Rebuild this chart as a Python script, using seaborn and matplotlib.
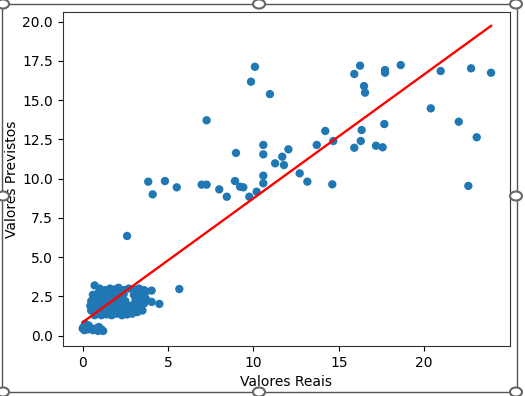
import matplotlib
matplotlib.use("Agg")
import matplotlib.pyplot as plt
from matplotlib.patches import Rectangle, Circle
import seaborn as sns
import pandas as pd

# ---- data: actual (x) vs predicted (y) ----
real_low = [0.05, 0.10, 0.20, 0.30, 0.45, 0.60, 0.75, 0.90, 1.10, 1.20, 0.15, 0.00, 0.35, 0.95]
pred_low = [0.55, 0.35, 0.60, 0.40, 0.50, 0.35, 0.45, 0.30, 0.40, 0.30, 0.75, 0.45, 0.65, 0.55]

real_cluster = [0.7, 1.0, 1.3, 1.6, 1.9, 2.1, 2.4, 2.7, 3.0, 3.3, 3.6, 3.7,
                0.6, 0.9, 1.2, 1.5, 1.8, 2.1, 2.4, 3.0, 3.3, 3.6,
                0.5, 0.7, 1.0, 1.3, 1.6, 1.9, 2.2, 2.5, 3.1, 3.4, 3.7,
                0.45, 0.6, 0.9, 1.2, 1.5, 1.8, 2.1, 2.4, 2.7, 3.0, 3.3, 3.6,
                0.5, 0.7, 0.9, 1.2, 1.5, 1.8, 2.1, 2.4, 2.7, 3.0, 3.3, 3.5,
                0.7, 0.9, 1.1, 1.4, 1.7, 2.0, 2.3, 2.6, 2.9, 3.2,
                4.04, 4.04, 4.49, 5.66, 2.6]
pred_cluster = [3.20, 3.00, 2.90, 3.00, 2.95, 3.05, 2.90, 3.00, 2.95, 3.00, 2.90, 2.80,
                2.60, 2.70, 2.60, 2.55, 2.70, 2.60, 2.65, 2.60, 2.55, 2.60,
                2.20, 2.30, 2.35, 2.25, 2.30, 2.40, 2.30, 2.20, 2.30, 2.25, 2.35,
                1.90, 2.00, 1.95, 2.05, 1.90, 2.00, 1.95, 2.05, 1.90, 2.00, 1.95, 2.05,
                1.60, 1.70, 1.60, 1.65, 1.70, 1.60, 1.65, 1.70, 1.60, 1.65, 1.70, 1.60,
                1.30, 1.40, 1.30, 1.35, 1.30, 1.40, 1.30, 1.35, 1.40, 1.50,
                2.87, 2.15, 2.02, 2.97, 6.35]

real_mid = [3.84, 4.82, 4.10, 5.51, 6.97, 7.26, 7.26, 8.00, 8.44, 8.92, 8.98,
            9.22, 9.41, 9.76, 9.86, 10.09, 10.19, 10.58, 10.58, 10.58, 10.58, 10.97,
            11.27, 11.69, 11.79, 12.05, 12.71, 13.16, 13.71, 14.21, 14.62, 14.68]
pred_mid = [9.81, 9.85, 9.00, 9.45, 9.62, 9.62, 13.72, 9.32, 8.85, 9.85, 11.64,
            9.49, 9.45, 8.85, 16.18, 17.13, 9.17, 12.15, 11.55, 10.19, 9.71, 15.39,
            10.98, 11.40, 10.87, 11.87, 10.34, 9.81, 12.15, 13.04, 9.64, 12.40]

real_high = [15.91, 15.91, 16.25, 16.29, 16.34, 16.48, 16.54, 17.18, 17.57, 17.67,
             17.71, 17.71, 18.63, 20.39, 20.97, 22.03, 22.59, 22.75, 23.08, 23.92]
pred_high = [16.67, 11.97, 17.20, 12.40, 13.10, 15.90, 15.48, 12.10, 12.00, 13.48,
             16.92, 16.75, 17.24, 14.48, 16.86, 13.63, 9.54, 17.03, 12.64, 16.75]

# fitted regression line endpoints
line_x = [0.0, 23.92]
line_y = [0.85, 19.74]

df = pd.DataFrame({
    "real": real_low + real_cluster + real_mid + real_high,
    "pred": pred_low + pred_cluster + pred_mid + pred_high,
})
line_df = pd.DataFrame({"x": line_x, "y": line_y})

fig = plt.figure(figsize=(5.25, 3.96), dpi=100)
W, H = 525, 396
ax = fig.add_axes([62.7 / W, 1 - 346 / H, (510 - 62.7) / W, (346 - 12) / H])

sns.scatterplot(data=df, x="real", y="pred", ax=ax, color="#1f77b4",
                s=36, linewidth=0, edgecolor="none", zorder=2)
sns.lineplot(data=line_df, x="x", y="y", ax=ax, color="red", linewidth=1.7, zorder=3)

ax.set_xlabel("Valores Reais", fontsize=10)
ax.set_ylabel("Valores Previstos", fontsize=10, labelpad=2)
ax.set_xticks([0, 5, 10, 15, 20])
ax.set_yticks([0, 2.5, 5, 7.5, 10, 12.5, 15, 17.5, 20])
ax.set_yticklabels([f"{v:.1f}" for v in [0, 2.5, 5, 7.5, 10, 12.5, 15, 17.5, 20]])
ax.set_xlim(-1.17, 25.03)
ax.set_ylim(-0.66, 20.62)
for sp in ax.spines.values():
    sp.set_color("#333333")

# screenshot selection frame and handles
fig.patches.append(Rectangle((2 / W, 1 - 391.5 / H), (516.5 - 2) / W, (391.5 - 3.5) / H,
                             transform=fig.transFigure, fill=False,
                             edgecolor="#555555", linewidth=1.0, zorder=10))
for (px, py) in [(3, 4), (259, 4), (516, 4), (516, 196), (3, 392), (259, 392), (516, 392), (3, 196)]:
    fig.patches.append(Circle((px / W, 1 - py / H), 6 / W, transform=fig.transFigure,
                              facecolor="white", edgecolor="#666666", linewidth=1.5, zorder=11))

fig.savefig("out.png", dpi=100)
